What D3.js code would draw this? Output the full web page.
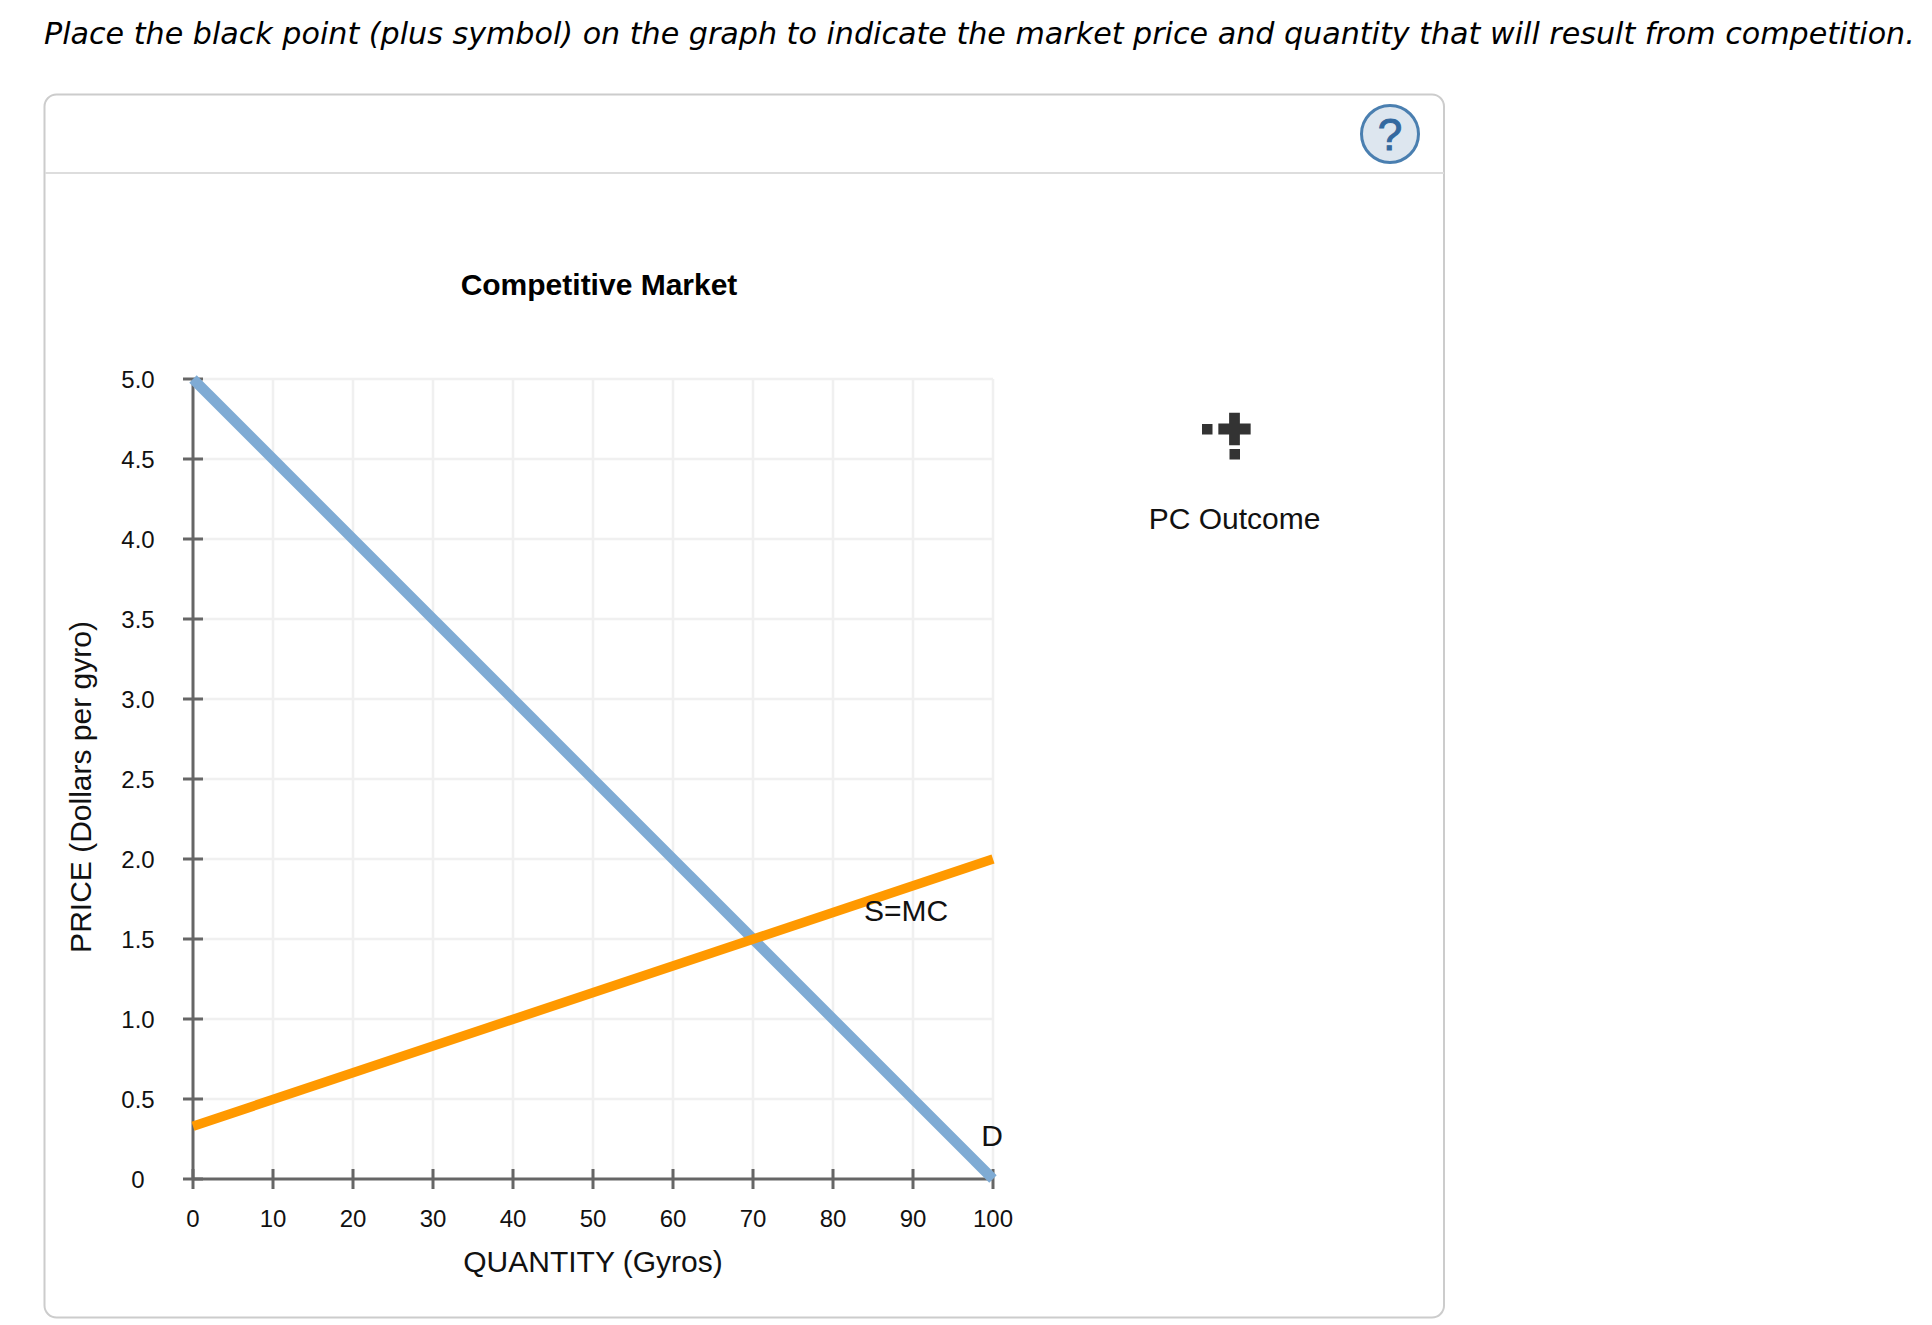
<!DOCTYPE html>
<html>
<head>
<meta charset="utf-8">
<script src="https://cdn.jsdelivr.net/npm/d3@7"></script>
<style>
  html, body { margin: 0; padding: 0; background: #fff; }
  svg { display: block; }
  text { font-family: "Liberation Sans", Arial, sans-serif; fill: #111; }
</style>
</head>
<body>
<svg id="chart" width="1932" height="1325"></svg>
<script>
// chart values
const xTicks = [0, 10, 20, 30, 40, 50, 60, 70, 80, 90, 100];
const yTicks = [0, 0.5, 1, 1.5, 2, 2.5, 3, 3.5, 4, 4.5, 5];
const yTickLabels = ["0", "0.5", "1.0", "1.5", "2.0", "2.5", "3.0", "3.5", "4.0", "4.5", "5.0"];
const demandQty = [0, 100];
const demandPrice = [5, 0];
const supplyQty = [0, 100];
const supplyPrice = [0.33, 2];

const svg = d3.select("#chart");

// x / y scales, plot box goes from 193 to 993 and from 379 to 1179
const x = d3.scaleLinear().domain([0, 100]).range([193, 993]);
const y = d3.scaleLinear().domain([0, 5]).range([1179, 379]);

// question text on top
svg.append("text")
  .attr("x", 44).attr("y", 44)
  .style("font-family", "'DejaVu Sans'")
  .style("font-style", "oblique")
  .style("font-size", "30.15px")
  .style("fill", "#000")
  .text("Place the black point (plus symbol) on the graph to indicate the market price and quantity that will result from competition.");

// card around the graph
svg.append("rect")
  .attr("x", 44.5).attr("y", 94.5).attr("width", 1399.5).attr("height", 1223).attr("rx", 12)
  .attr("fill", "#fff").attr("stroke", "#ccc").attr("stroke-width", 2);
svg.append("line")
  .attr("x1", 45).attr("x2", 1444).attr("y1", 173).attr("y2", 173)
  .attr("stroke", "#ddd").attr("stroke-width", 2);

// help button
svg.append("circle")
  .attr("cx", 1390).attr("cy", 134).attr("r", 28.5)
  .attr("fill", "#dde6ef").attr("stroke", "#4a7fb0").attr("stroke-width", 3);
svg.append("text")
  .attr("x", 1390).attr("y", 150).attr("text-anchor", "middle")
  .style("font-size", "44px").style("fill", "#34699f")
  .attr("stroke", "#34699f").attr("stroke-width", 1)
  .text("?");

svg.append("text")
  .attr("x", 599).attr("y", 295).attr("text-anchor", "middle")
  .style("font-size", "30px").style("font-weight", "bold").style("fill", "#000")
  .text("Competitive Market");

// grid
svg.append("g").selectAll("line").data(xTicks.slice(1)).join("line")
  .attr("x1", d => x(d)).attr("x2", d => x(d)).attr("y1", y(5)).attr("y2", y(0))
  .attr("stroke", "#f0f0f0").attr("stroke-width", 2.5);
svg.append("g").selectAll("line").data(yTicks.slice(1)).join("line")
  .attr("x1", x(0)).attr("x2", x(100)).attr("y1", d => y(d)).attr("y2", d => y(d))
  .attr("stroke", "#f0f0f0").attr("stroke-width", 2.5);

// axes
const xAxis = svg.append("g")
  .attr("transform", `translate(0,${y(0)})`)
  .call(d3.axisBottom(x).offset(0).tickValues(xTicks).tickSize(10).tickPadding(21).tickSizeOuter(0));
xAxis.selectAll(".tick line").attr("y1", -10);
const yAxis = svg.append("g")
  .attr("transform", `translate(${x(0)},0)`)
  .call(d3.axisLeft(y).offset(0).tickValues(yTicks).tickFormat((d, i) => yTickLabels[i]).tickSize(10).tickSizeOuter(0));
yAxis.selectAll(".tick line").attr("x1", -10).attr("x2", 10);
yAxis.selectAll(".tick text").attr("x", -55).attr("dy", "0.37em").attr("text-anchor", "middle");

svg.selectAll(".domain, .tick line").attr("stroke", "#666").attr("stroke-width", 3);
svg.selectAll(".tick text").style("font-size", "24px").style("font-family", "'Liberation Sans'").attr("fill", "#111");

svg.append("text")
  .attr("x", 593).attr("y", 1272).attr("text-anchor", "middle")
  .style("font-size", "30px")
  .text("QUANTITY (Gyros)");
svg.append("text")
  .attr("transform", "translate(91,787) rotate(-90)").attr("text-anchor", "middle")
  .style("font-size", "30px")
  .text("PRICE (Dollars per gyro)");

// demand and supply curves
const line = d3.line().x(d => x(d[0])).y(d => y(d[1]));
svg.append("path")
  .attr("d", line(d3.zip(demandQty, demandPrice)))
  .attr("fill", "none").attr("stroke", "#7fabd4").attr("stroke-width", 10.5);
svg.append("path")
  .attr("d", line(d3.zip(supplyQty, supplyPrice)))
  .attr("fill", "none").attr("stroke", "#ff9900").attr("stroke-width", 9.5);

svg.append("text").attr("x", 906).attr("y", 921).attr("text-anchor", "middle")
  .style("font-size", "30px").text("S=MC");
svg.append("text").attr("x", 992).attr("y", 1146).attr("text-anchor", "middle")
  .style("font-size", "30px").text("D");

// plus symbol for the palette, with the two small snap squares
const paletteColor = "#333";
const plus = d3.symbol().type(d3.symbolCross).size(580);
svg.append("path")
  .attr("transform", "translate(1234.5,429)")
  .attr("d", plus()).attr("fill", paletteColor);
svg.append("rect").attr("x", 1202).attr("y", 424).attr("width", 10.5).attr("height", 10.5).attr("fill", paletteColor);
svg.append("rect").attr("x", 1229.5).attr("y", 449).attr("width", 10.5).attr("height", 10.5).attr("fill", paletteColor);

svg.append("text").attr("x", 1234.5).attr("y", 529).attr("text-anchor", "middle")
  .style("font-size", "30px").text("PC Outcome");
</script>
</body>
</html>
